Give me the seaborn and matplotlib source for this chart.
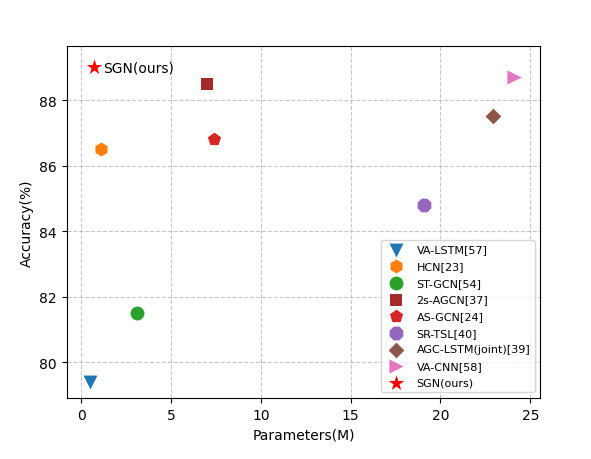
import matplotlib
matplotlib.use('Agg')
import matplotlib.pyplot as plt
import seaborn as sns

methods = ['VA-LSTM[57]', 'HCN[23]', 'ST-GCN[54]', '2s-AGCN[37]', 'AS-GCN[24]',
           'SR-TSL[40]', 'AGC-LSTM(joint)[39]', 'VA-CNN[58]', 'SGN(ours)']
params = [0.5, 1.1, 3.1, 7.0, 7.4, 19.1, 22.9, 24.1, 0.7]
accuracy = [79.4, 86.5, 81.5, 88.5, 86.8, 84.8, 87.5, 88.7, 89.0]

markers = ['v', 'h', 'o', 's', 'p', '8', 'D', '>', '*']
colors = ['tab:blue', 'tab:orange', 'tab:green', 'brown', 'tab:red',
          'tab:purple', 'tab:brown', 'tab:pink', 'red']
# squares and diamonds look smaller in the original, the star bigger
marker_size = {'s': 66, 'D': 64, '8': 115, '*': 135, '>': 105}

fig, ax = plt.subplots(figsize=(5.91, 4.6), dpi=100)
fig.subplots_adjust(left=0.113, right=0.914, top=0.898, bottom=0.133)

for name, x, y, m, c in zip(methods, params, accuracy, markers, colors):
    sns.scatterplot(x=[x], y=[y], marker=m, color=c, s=marker_size.get(m, 100),
                    linewidth=0, label=name, ax=ax, zorder=3)

# label the proposed model next to its star
ax.annotate(methods[-1], (params[-1], accuracy[-1]), xytext=(7, 0),
            textcoords='offset points', va='center', fontsize=10)

ax.set_xlim(-0.8, 25.55)
ax.set_ylim(78.92, 89.65)
ax.set_xticks([0, 5, 10, 15, 20, 25])
ax.set_yticks([80, 82, 84, 86, 88])
ax.set_xlabel('Parameters(M)')
ax.set_ylabel('Accuracy(%)')
ax.grid(True, linestyle='--', alpha=0.7)
ax.set_axisbelow(True)
ax.legend(loc='lower right', fontsize=8, labelspacing=0.6)

plt.savefig('out.png', dpi=100)
